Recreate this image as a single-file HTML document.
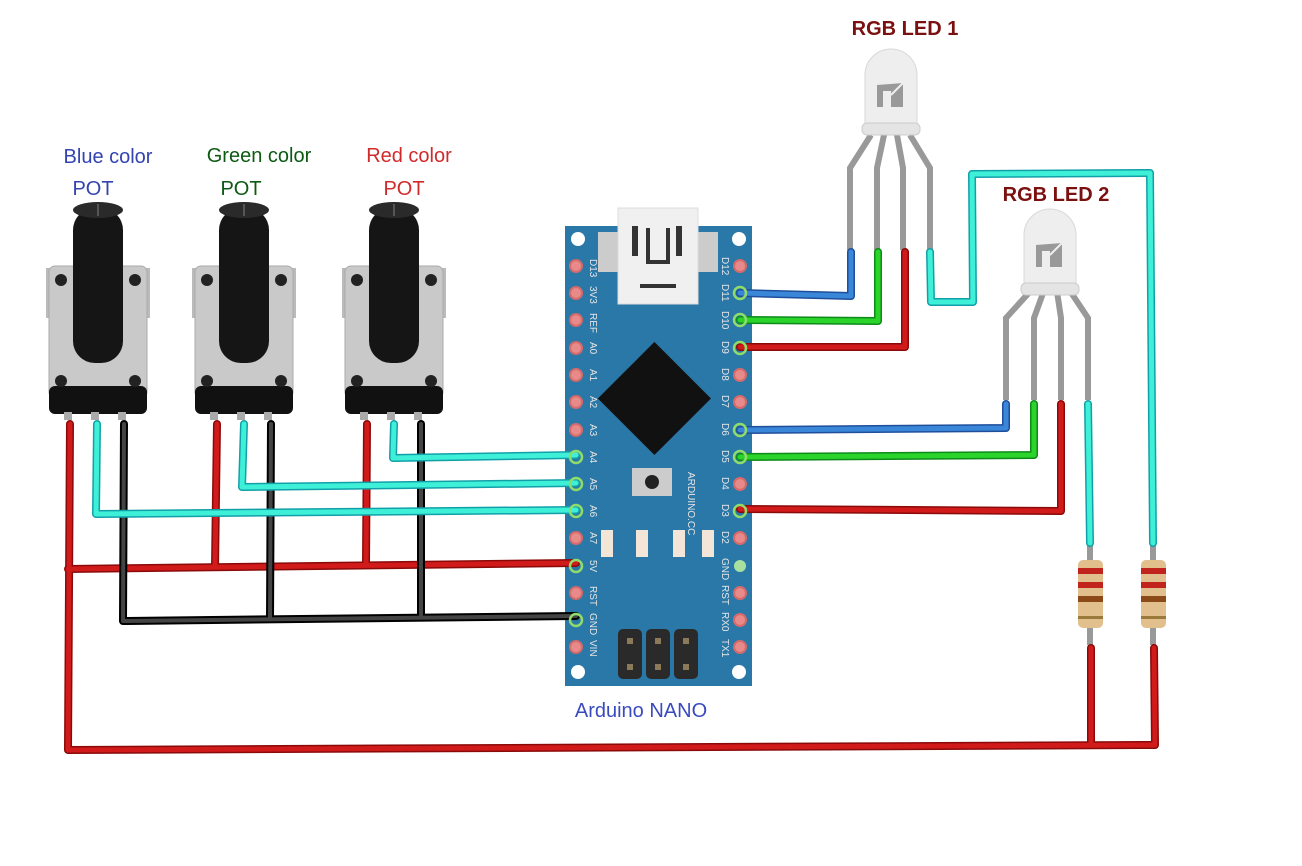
<!DOCTYPE html>
<html><head><meta charset="utf-8"><style>
html,body{margin:0;padding:0;background:#fff;width:1302px;height:866px;overflow:hidden}
svg{display:block}
text{font-family:"Liberation Sans",sans-serif}
</style></head><body>
<svg width="1302" height="866" viewBox="0 0 1302 866" xmlns="http://www.w3.org/2000/svg">
<defs>
<g id="pot">
  <rect x="0" y="70" width="8" height="50" fill="#bbb"/>
  <rect x="96" y="70" width="8" height="50" fill="#bbb"/>
  <rect x="3" y="68" width="98" height="132" rx="6" fill="#c9c9c9" stroke="#aaa"/>
  <rect x="3" y="188" width="98" height="28" rx="6" fill="#111"/>
  <circle cx="15" cy="82" r="6" fill="#222"/><circle cx="89" cy="82" r="6" fill="#222"/>
  <circle cx="15" cy="183" r="6" fill="#222"/><circle cx="89" cy="183" r="6" fill="#222"/>
  <rect x="27" y="10" width="50" height="155" rx="22" fill="#151515"/>
  <ellipse cx="52" cy="12" rx="25" ry="8" fill="#2a2a2a"/>
  <line x1="52" y1="6" x2="52" y2="18" stroke="#555" stroke-width="2"/>
  <rect x="18" y="214" width="8" height="8" fill="#aaa"/><rect x="45" y="214" width="8" height="8" fill="#aaa"/><rect x="72" y="214" width="8" height="8" fill="#aaa"/>
</g>
<g id="led">
  <path d="M-26 70 L-26 20 A26 26 0 0 1 26 20 L26 70 Z" fill="#eeeeee" stroke="#d8d8d8"/>
  <rect x="-29" y="68" width="58" height="12" rx="5" fill="#e4e4e4" stroke="#ccc"/>
  <path d="M-14 30 L-14 52 L-8 52 L-8 36 L0 36 L0 52 L12 52 L12 28 Z" fill="#999"/>
  <line x1="0" y1="40" x2="12" y2="28" stroke="#eee" stroke-width="2"/>
</g>
<g id="res">
  <rect x="-3" y="-20" width="6" height="105" fill="#999"/>
  <rect x="-12" y="0" width="25" height="68" rx="5" fill="#e2c08e"/>
  <rect x="-12" y="8" width="25" height="6" fill="#c0241c"/>
  <rect x="-12" y="22" width="25" height="6" fill="#c0241c"/>
  <rect x="-12" y="36" width="25" height="6" fill="#8b4a17"/>
  <rect x="-12" y="56" width="25" height="3" fill="#9a7a3a"/>
</g>
</defs>

<!-- labels -->
<g font-size="20">
<text x="108" y="163" fill="#3344b0" text-anchor="middle">Blue color</text>
<text x="93" y="195" fill="#3344b0" text-anchor="middle">POT</text>
<text x="259" y="162" fill="#0d5a12" text-anchor="middle">Green color</text>
<text x="241" y="195" fill="#0d5a12" text-anchor="middle">POT</text>
<text x="409" y="162" fill="#d02a2a" text-anchor="middle">Red color</text>
<text x="404" y="195" fill="#d02a2a" text-anchor="middle">POT</text>
<text x="905" y="35" fill="#7a1010" text-anchor="middle" font-weight="bold">RGB LED 1</text>
<text x="1056" y="201" fill="#7a1010" text-anchor="middle" font-weight="bold">RGB LED 2</text>
<text x="641" y="717" fill="#3a4bbf" text-anchor="middle">Arduino NANO</text>
</g>

<!-- pots -->
<use href="#pot" x="46" y="198"/>
<use href="#pot" x="192" y="198"/>
<use href="#pot" x="342" y="198"/>

<!-- arduino -->
<g>
<rect x="565" y="226" width="187" height="460" fill="#2a78a8"/>
<rect x="598" y="232" width="120" height="40" fill="#ccc"/>
<rect x="618" y="208" width="80" height="96" fill="#f0f0f0" stroke="#ddd"/>
<rect x="632" y="226" width="6" height="30" fill="#333"/><rect x="676" y="226" width="6" height="30" fill="#333"/>
<path d="M648 228 L648 262 L668 262 L668 228" fill="none" stroke="#333" stroke-width="4"/>
<rect x="640" y="284" width="36" height="4" fill="#333"/>
<circle cx="578" cy="239" r="7" fill="#fff"/><circle cx="739" cy="239" r="7" fill="#fff"/>
<circle cx="578" cy="672" r="7" fill="#fff"/><circle cx="739" cy="672" r="7" fill="#fff"/>
<rect x="620" y="355" width="80" height="80" fill="#111" transform="rotate(45 653 390)"/>
<rect x="632" y="468" width="40" height="28" fill="#ccc"/><circle cx="652" cy="482" r="7" fill="#222"/>
<g fill="#f3e6d8"><rect x="601" y="530" width="12" height="27"/><rect x="636" y="530" width="12" height="27"/><rect x="673" y="530" width="12" height="27"/><rect x="702" y="530" width="12" height="27"/></g>
<g fill="#2a2a2a"><rect x="618" y="629" width="24" height="50" rx="5"/><rect x="646" y="629" width="24" height="50" rx="5"/><rect x="674" y="629" width="24" height="50" rx="5"/></g>
<g fill="#8a7a5a"><rect x="627" y="638" width="6" height="6"/><rect x="655" y="638" width="6" height="6"/><rect x="683" y="638" width="6" height="6"/><rect x="627" y="664" width="6" height="6"/><rect x="655" y="664" width="6" height="6"/><rect x="683" y="664" width="6" height="6"/></g>
<g fill="#e88a8a" stroke="#d46a6a" stroke-width="2">
<circle cx="576" cy="266" r="6"/><circle cx="576" cy="293" r="6"/><circle cx="576" cy="320" r="6"/><circle cx="576" cy="348" r="6"/><circle cx="576" cy="375" r="6"/><circle cx="576" cy="402" r="6"/><circle cx="576" cy="430" r="6"/><circle cx="576" cy="538" r="6"/><circle cx="576" cy="593" r="6"/><circle cx="576" cy="647" r="6"/>
<circle cx="740" cy="266" r="6"/><circle cx="740" cy="375" r="6"/><circle cx="740" cy="402" r="6"/><circle cx="740" cy="484" r="6"/><circle cx="740" cy="538" r="6"/><circle cx="740" cy="593" r="6"/><circle cx="740" cy="620" r="6"/><circle cx="740" cy="647" r="6"/>
</g>
<circle cx="740" cy="566" r="6" fill="#a8e0a0"/>
<g fill="#e5e5e5" font-family="Liberation Mono,monospace" font-size="10">
<g transform="rotate(90)">
<text x="259" y="-590">D13</text><text x="286" y="-590">3V3</text><text x="313" y="-590">REF</text><text x="342" y="-590">A0</text><text x="369" y="-590">A1</text><text x="396" y="-590">A2</text><text x="424" y="-590">A3</text><text x="451" y="-590">A4</text><text x="478" y="-590">A5</text><text x="505" y="-590">A6</text><text x="532" y="-590">A7</text><text x="560" y="-590">5V</text><text x="586" y="-590">RST</text><text x="613" y="-590">GND</text><text x="640" y="-590">VIN</text>
<text x="257" y="-722">D12</text><text x="284" y="-722">D11</text><text x="311" y="-722">D10</text><text x="341" y="-722">D9</text><text x="368" y="-722">D8</text><text x="395" y="-722">D7</text><text x="423" y="-722">D6</text><text x="450" y="-722">D5</text><text x="477" y="-722">D4</text><text x="504" y="-722">D3</text><text x="531" y="-722">D2</text><text x="558" y="-722">GND</text><text x="585" y="-722">RST</text><text x="612" y="-722">RX0</text><text x="639" y="-722">TX1</text>
<text x="472" y="-688">ARDUINO.CC</text>
</g>
</g>
</g>

<!-- LEDs -->
<g fill="none" stroke="#999" stroke-width="6">
<path d="M871 135 L850 168 L850 250"/><path d="M884 135 L877 168 L877 250"/><path d="M897 135 L903 168 L903 250"/><path d="M910 135 L930 168 L930 250"/>
<path d="M1036 285 L1006 318 L1006 400"/><path d="M1046 285 L1034 318 L1034 400"/><path d="M1056 285 L1061 318 L1061 400"/><path d="M1066 285 L1088 318 L1088 400"/>
</g>
<use href="#led" x="891" y="55"/>
<use href="#led" x="1050" y="215"/>

<!-- resistors -->
<use href="#res" x="1090" y="560"/>
<use href="#res" x="1153" y="560"/>

<!-- wires -->
<g fill="none" stroke-linejoin="round" stroke-linecap="round">
 <g stroke="#8a0a0a" stroke-width="8">
  <path d="M70 424 L68 750 L1155 745 L1154 648"/><path d="M1091 648 L1091 745"/>
  <path d="M68 569 L576 563"/><path d="M217 424 L215 567"/><path d="M367 424 L366 564"/>
  <path d="M905 252 L905 347 L740 347"/><path d="M1061 404 L1061 511 L740 509"/>
 </g>
 <g stroke="#d11a1a" stroke-width="5">
  <path d="M70 424 L68 750 L1155 745 L1154 648"/><path d="M1091 648 L1091 745"/>
  <path d="M68 569 L576 563"/><path d="M217 424 L215 567"/><path d="M367 424 L366 564"/>
  <path d="M905 252 L905 347 L740 347"/><path d="M1061 404 L1061 511 L740 509"/>
 </g>
 <g stroke="#000" stroke-width="8"><path d="M124 424 L123 621 L576 616"/><path d="M271 424 L270 619"/><path d="M421 424 L421 617"/></g>
 <g stroke="#444" stroke-width="4"><path d="M124 424 L123 621 L576 616"/><path d="M271 424 L270 619"/><path d="M421 424 L421 617"/></g>
 <g stroke="#12a0a8" stroke-width="8">
  <path d="M97 424 L96 514 L576 510"/><path d="M244 424 L242 487 L576 483"/><path d="M394 424 L393 458 L576 455"/>
  <path d="M930 252 L931 302 L973 302 L972 174 L1150 173 L1153 543"/><path d="M1088 404 L1090 543"/>
 </g>
 <g stroke="#3ff0d8" stroke-width="5">
  <path d="M97 424 L96 514 L576 510"/><path d="M244 424 L242 487 L576 483"/><path d="M394 424 L393 458 L576 455"/>
  <path d="M930 252 L931 302 L973 302 L972 174 L1150 173 L1153 543"/><path d="M1088 404 L1090 543"/>
 </g>
 <g stroke="#1f4f9a" stroke-width="8"><path d="M851 252 L851 296 L740 293"/><path d="M1006 404 L1006 428 L740 430"/></g>
 <g stroke="#3a86d8" stroke-width="5"><path d="M851 252 L851 296 L740 293"/><path d="M1006 404 L1006 428 L740 430"/></g>
 <g stroke="#0e8a1a" stroke-width="8"><path d="M878 252 L878 321 L740 320"/><path d="M1034 404 L1034 455 L740 457"/></g>
 <g stroke="#2ad42a" stroke-width="5"><path d="M878 252 L878 321 L740 320"/><path d="M1034 404 L1034 455 L740 457"/></g>
</g>
<g fill="none" stroke="#8fdc6a" stroke-width="2.5">
<circle cx="576" cy="457" r="6"/><circle cx="576" cy="484" r="6"/><circle cx="576" cy="511" r="6"/><circle cx="576" cy="566" r="6"/><circle cx="576" cy="620" r="6"/>
<circle cx="740" cy="293" r="6"/><circle cx="740" cy="320" r="6"/><circle cx="740" cy="348" r="6"/><circle cx="740" cy="430" r="6"/><circle cx="740" cy="457" r="6"/><circle cx="740" cy="511" r="6"/>
</g>
</svg>
</body></html>
